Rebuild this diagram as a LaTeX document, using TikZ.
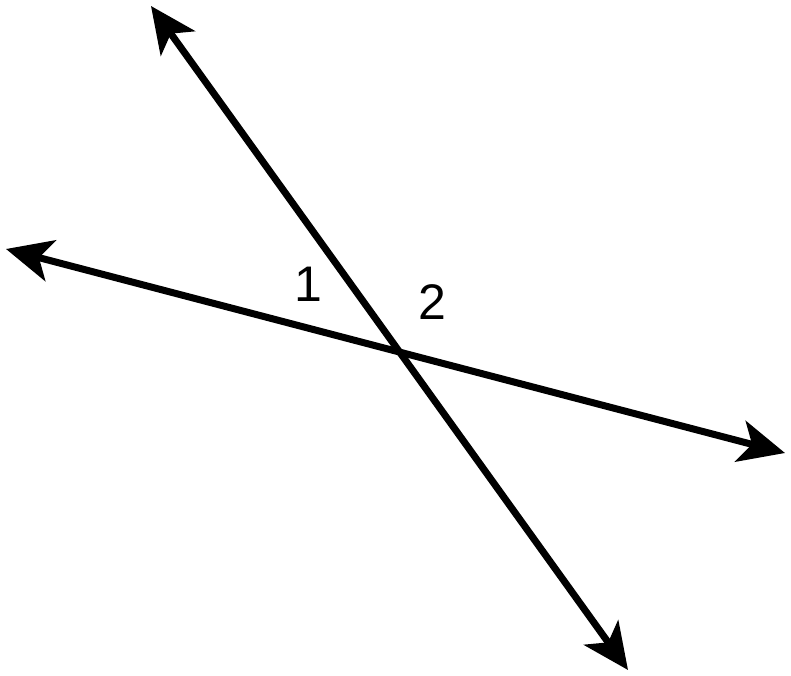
\documentclass[tikz,border=0pt]{standalone}
\usepackage{fontspec}
\setmainfont{Liberation Sans}
\usetikzlibrary{arrows.meta}
\begin{document}
\begin{tikzpicture}[x=1pt,y=-1pt,
  ray/.style={line width=7pt,{Stealth[length=46pt,width=42pt,inset=12pt]}-{Stealth[length=46pt,width=42pt,inset=12pt]}},
  lbl/.style={font=\fontsize{50}{50}\selectfont,inner sep=0pt}]
\useasboundingbox (0,0) rectangle (791,676);
\coordinate (a1) at (151,6);
\coordinate (a2) at (628,670);
\coordinate (b1) at (6,249);
\coordinate (b2) at (785,453);
\draw[ray] (a1) -- (a2);
\draw[ray] (b1) -- (b2);
\node[lbl] (n1) at (308,284) {1};
\node[lbl] (n2) at (432,302) {2};
\end{tikzpicture}
\end{document}
